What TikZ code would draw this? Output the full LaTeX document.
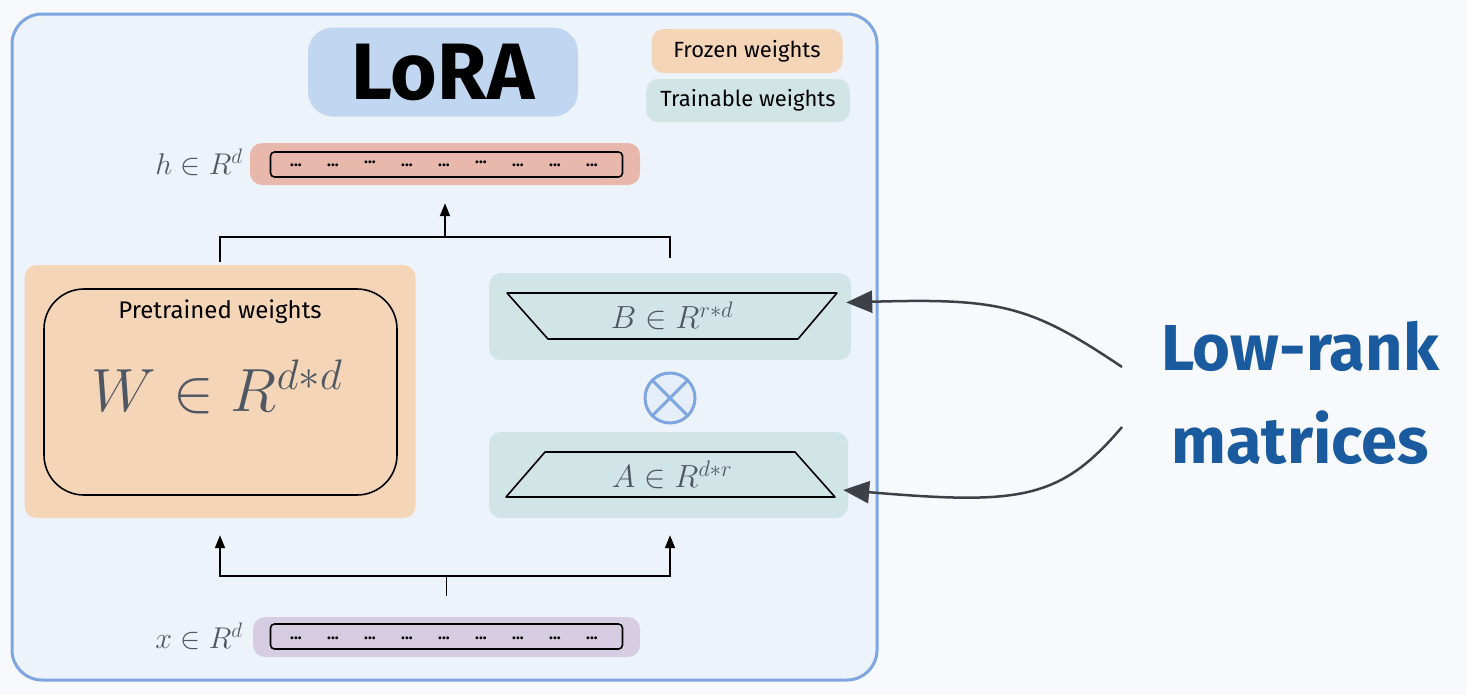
\RequirePackage{fix-cm}
\documentclass[tikz,border=0pt]{standalone}
\usepackage{amsmath}
\usepackage{amssymb}
\usepackage{fontspec}
\setmainfont{Fira Sans}
\usetikzlibrary{arrows.meta,positioning}

\definecolor{page}{HTML}{F8F9FC}
\definecolor{panel}{HTML}{EDF3FA}
\definecolor{frame}{HTML}{7EA6E0}
\definecolor{lorabox}{HTML}{C1D6F0}
\definecolor{frozen}{HTML}{F5D5B8}
\definecolor{trainable}{HTML}{D2E5E6}
\definecolor{hred}{HTML}{E8B8AD}
\definecolor{xpurple}{HTML}{D6CDE2}
\definecolor{mathgray}{HTML}{4F5862}
\definecolor{notegray}{HTML}{3D4047}
\definecolor{lrblue}{HTML}{1A5A9E}

\tikzset{
  blob/.style={rounded corners=12pt, inner sep=0pt},
  cell/.style={draw=black, line width=1.6pt, rounded corners=4pt, inner sep=0pt,
    minimum width=352pt, minimum height=25pt},
  dots/.style={inner sep=0pt, font=\fontsize{16}{16}\selectfont\bfseries},
  mathlabel/.style={text=mathgray},
  flow/.style={line width=1.8pt},
  note/.style={-{Triangle[length=26pt,width=22pt]}, line width=2.5pt, draw=notegray}
}

\begin{document}
\begin{tikzpicture}[x=1pt,y=-1pt]
  \fill[page] (0,0) rectangle (1467,694);
  \draw[frame, fill=panel, line width=3pt, rounded corners=30pt] (12,14) rectangle (877,680);

  % title and legend
  \node[fill=lorabox, rounded corners=25pt, minimum width=270pt, minimum height=89pt,
    font=\fontsize{80}{80}\selectfont\bfseries] (title) at (443,72) {LoRA};
  \node[blob, fill=frozen, minimum width=191pt, minimum height=44pt,
    font=\fontsize{22}{22}\selectfont] (frozenkey) at (747,51) {Frozen weights};
  \node[blob, fill=trainable, minimum width=204pt, minimum height=43pt,
    font=\fontsize{22}{22}\selectfont] (trainkey) at (748,100.5) {Trainable weights};

  % output h
  \node[blob, fill=hred, minimum width=390pt, minimum height=42pt] (hblob) at (445,164) {};
  \node[cell] (hcell) at (446.5,164.5) {};
  \foreach \i/\dy in {0/0,1/0,2/-3,3/0,4/0,5/-3,6/0,7/0,8/0}
    \node[dots] at (296+37*\i,165+\dy) {...};
  \node[mathlabel, font=\fontsize{30}{30}\selectfont] (hlabel) at (199,162) {$h\in R^d$};

  % pretrained weights
  \node[blob, fill=frozen, minimum width=391pt, minimum height=253pt] (wblob) at (220,391.5) {};
  \node[draw, line width=1.6pt, rounded corners=40pt, minimum width=353pt, minimum height=206pt]
    (wbox) at (220.5,392) {};
  \node[font=\fontsize{24}{24}\selectfont] (wtitle) at (220,312) {Pretrained weights};
  \node[mathlabel, font=\fontsize{61}{61}\selectfont] (wmath) at (217,387) {$W\in R^{d*d}$};

  % low-rank B and A
  \node[blob, fill=trainable, minimum width=362pt, minimum height=87pt] (bblob) at (670,316.5) {};
  \draw[line width=1.6pt, line join=round] (507,293) -- (837,293) -- (798,339) -- (548,339) -- cycle;
  \node[mathlabel, font=\fontsize{32}{32}\selectfont] (bmath) at (672,316) {$B\in R^{r*d}$};

  \node[circle, draw=frame, fill=lorabox!40, line width=3pt, minimum size=50pt] (prod) at (670,398) {};
  \draw[frame, line width=3pt] (prod.north west) -- (prod.south east)
    (prod.north east) -- (prod.south west);

  \node[blob, fill=trainable, minimum width=359pt, minimum height=86pt] (ablob) at (668.5,475) {};
  \draw[line width=1.6pt, line join=round] (545,452) -- (795,452) -- (835,497) -- (506,497) -- cycle;
  \node[mathlabel, font=\fontsize{32}{32}\selectfont] (amath) at (672,475) {$A\in R^{d*r}$};

  % input x
  \node[blob, fill=xpurple, minimum width=387pt, minimum height=40pt] (xblob) at (446.5,637) {};
  \node[cell] (xcell) at (446.5,636.5) {};
  \foreach \i in {0,...,8}
    \node[dots] at (296+37*\i,638) {...};
  \node[mathlabel, font=\fontsize{30}{30}\selectfont] (xlabel) at (199,636) {$x\in R^d$};

  % data flow
  \coordinate (jtop) at (445,237);
  \coordinate (jbot) at (446.5,576);
  \draw[flow] ([yshift=3pt]wblob.north) |- (jtop) -| ([yshift=15pt]bblob.north);
  \draw[flow, -{Triangle[length=13pt,width=10pt]}] (jtop) -- ([yshift=-18pt]hblob.south);
  \draw[flow] ([yshift=21pt]xblob.north) -- (jbot);
  \draw[flow, -{Triangle[length=13pt,width=10pt]}] (jbot) -| ([yshift=-17pt]wblob.south);
  \draw[flow, -{Triangle[length=13pt,width=10pt]}] (jbot) -| ([xshift=1.5pt,yshift=-17pt]ablob.south);

  % note
  \node[text=lrblue, align=center, font=\fontsize{65}{93}\selectfont\bfseries] (lowrank) at (1300,393)
    {Low-rank\\matrices};
  \coordinate (lrtop) at (1122,367);
  \coordinate (lrbot) at (1122,427);
  \draw[note] (lrtop) .. controls (1030,305) and (1000,298) .. ([shift={(-5pt,14pt)}]bblob.east);
  \draw[note] (lrbot) .. controls (1060,500) and (1020,505) .. ([shift={(-5pt,-15pt)}]ablob.east);
\end{tikzpicture}
\end{document}
